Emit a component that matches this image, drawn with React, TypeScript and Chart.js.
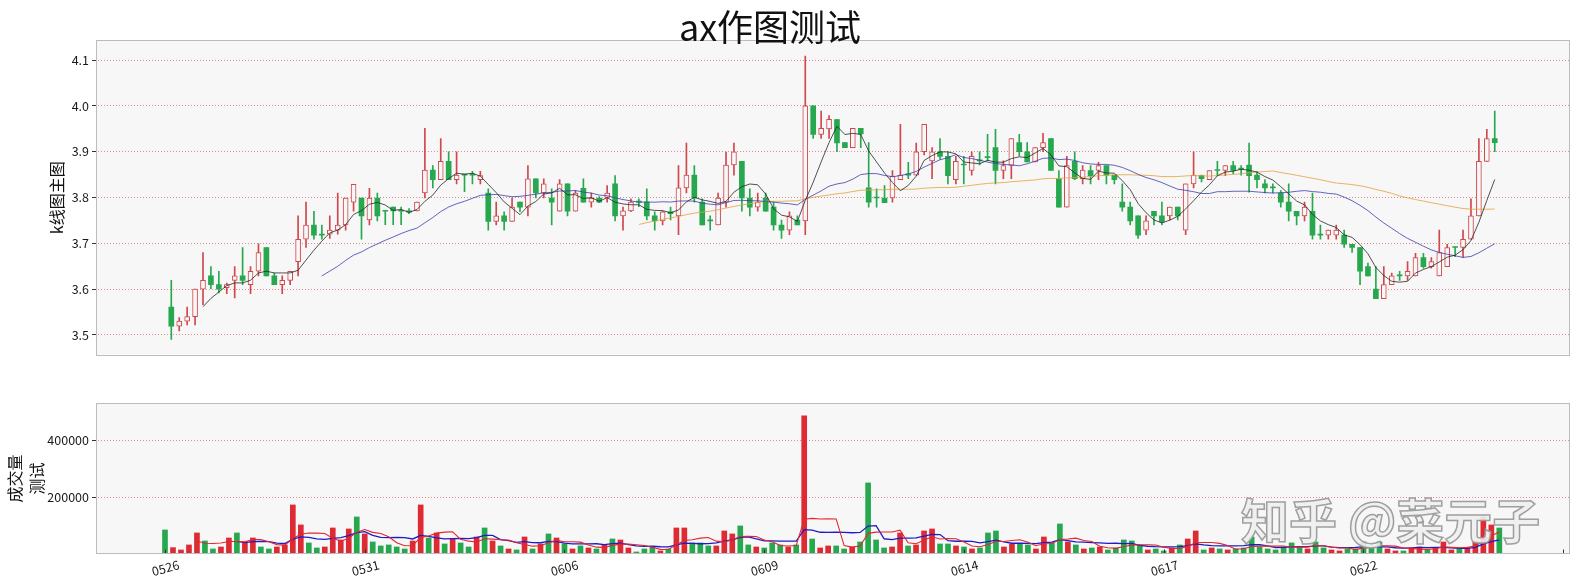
import React, { useEffect, useRef } from 'react';
import { Chart, registerables } from 'chart.js';

Chart.register(...registerables);

// ---------------- data ----------------
const dateLabels = ['0526', '0531', '0606', '0609', '0614', '0617', '0622', ''];
const dateTickIndex = [0, 25, 50, 75, 100, 125, 150, 175];
const priceTicks = [3.5, 3.6, 3.7, 3.8, 3.9, 4.0, 4.1];
const volumeTicks = [200000, 400000];

const opens = [
  3.561, 3.519, 3.530, 3.540, 3.600, 3.629, 3.610, 3.603, 3.619, 3.629,
  3.610, 3.639, 3.691, 3.629, 3.610, 3.619, 3.660, 3.709, 3.740, 3.720,
  3.720, 3.729, 3.740, 3.790, 3.799, 3.751, 3.799, 3.772, 3.779, 3.771,
  3.771, 3.771, 3.810, 3.860, 3.839, 3.879, 3.839, 3.850, 3.850, 3.839,
  3.810, 3.748, 3.760, 3.748, 3.790, 3.779, 3.841, 3.810, 3.799, 3.770,
  3.830, 3.770, 3.820, 3.790, 3.799, 3.800, 3.830, 3.760, 3.771, 3.792,
  3.790, 3.760, 3.749, 3.769, 3.760, 3.821, 3.849, 3.790, 3.751, 3.740,
  3.790, 3.871, 3.879, 3.799, 3.779, 3.799, 3.779, 3.740, 3.729, 3.751,
  3.749, 4.000, 3.938, 3.950, 3.970, 3.920, 3.909, 3.951, 3.821, 3.800,
  3.799, 3.799, 3.839, 3.852, 3.849, 3.900, 3.880, 3.900, 3.890, 3.839,
  3.872, 3.859, 3.881, 3.888, 3.909, 3.859, 3.870, 3.920, 3.900, 3.878,
  3.909, 3.929, 3.841, 3.779, 3.879, 3.841, 3.859, 3.859, 3.870, 3.849,
  3.790, 3.779, 3.760, 3.729, 3.770, 3.760, 3.760, 3.779, 3.729, 3.830,
  3.848, 3.839, 3.860, 3.859, 3.870, 3.863, 3.871, 3.849, 3.830, 3.822,
  3.810, 3.790, 3.770, 3.760, 3.770, 3.720, 3.718, 3.718, 3.718, 3.698,
  3.691, 3.649, 3.600, 3.579, 3.610, 3.630, 3.629, 3.629, 3.669, 3.649,
  3.629, 3.649, 3.692, 3.691, 3.709, 3.760, 3.879, 3.929,
];
const highs = [
  3.619, 3.538, 3.561, 3.600, 3.680, 3.649, 3.639, 3.613, 3.649, 3.691,
  3.649, 3.699, 3.691, 3.635, 3.629, 3.639, 3.760, 3.790, 3.770, 3.740,
  3.760, 3.810, 3.799, 3.829, 3.799, 3.820, 3.810, 3.772, 3.779, 3.779,
  3.776, 3.790, 3.951, 3.870, 3.929, 3.900, 3.900, 3.850, 3.857, 3.857,
  3.819, 3.790, 3.769, 3.799, 3.790, 3.870, 3.841, 3.841, 3.819, 3.839,
  3.830, 3.815, 3.841, 3.810, 3.802, 3.826, 3.848, 3.779, 3.797, 3.797,
  3.819, 3.769, 3.770, 3.779, 3.870, 3.919, 3.870, 3.797, 3.760, 3.810,
  3.899, 3.919, 3.879, 3.819, 3.810, 3.810, 3.790, 3.751, 3.769, 3.760,
  4.109, 4.000, 3.989, 3.979, 3.971, 3.920, 3.951, 3.951, 3.920, 3.819,
  3.826, 3.859, 3.960, 3.877, 3.919, 3.960, 3.909, 3.929, 3.900, 3.890,
  3.890, 3.900, 3.900, 3.938, 3.949, 3.880, 3.929, 3.938, 3.920, 3.909,
  3.940, 3.929, 3.859, 3.890, 3.900, 3.870, 3.870, 3.877, 3.870, 3.849,
  3.830, 3.790, 3.760, 3.760, 3.770, 3.790, 3.779, 3.779, 3.830, 3.900,
  3.849, 3.859, 3.879, 3.870, 3.879, 3.870, 3.919, 3.857, 3.839, 3.830,
  3.815, 3.830, 3.770, 3.790, 3.810, 3.740, 3.729, 3.740, 3.729, 3.698,
  3.691, 3.657, 3.649, 3.649, 3.635, 3.639, 3.660, 3.678, 3.678, 3.669,
  3.729, 3.698, 3.692, 3.729, 3.797, 3.929, 3.949, 3.989,
];
const lows = [
  3.490, 3.509, 3.522, 3.522, 3.566, 3.601, 3.592, 3.590, 3.581, 3.610,
  3.590, 3.629, 3.629, 3.610, 3.590, 3.610, 3.629, 3.691, 3.709, 3.709,
  3.711, 3.720, 3.729, 3.770, 3.709, 3.740, 3.749, 3.741, 3.741, 3.741,
  3.765, 3.771, 3.799, 3.821, 3.839, 3.839, 3.830, 3.813, 3.830, 3.830,
  3.729, 3.740, 3.729, 3.748, 3.769, 3.760, 3.799, 3.799, 3.740, 3.770,
  3.760, 3.770, 3.790, 3.779, 3.789, 3.790, 3.749, 3.729, 3.769, 3.780,
  3.751, 3.729, 3.740, 3.751, 3.719, 3.810, 3.790, 3.740, 3.729, 3.740,
  3.779, 3.849, 3.770, 3.760, 3.770, 3.770, 3.729, 3.711, 3.719, 3.740,
  3.719, 3.929, 3.929, 3.929, 3.900, 3.909, 3.909, 3.909, 3.779, 3.779,
  3.789, 3.790, 3.839, 3.841, 3.849, 3.893, 3.841, 3.884, 3.830, 3.830,
  3.830, 3.849, 3.871, 3.880, 3.830, 3.841, 3.841, 3.891, 3.878, 3.878,
  3.900, 3.859, 3.779, 3.779, 3.839, 3.830, 3.830, 3.839, 3.830, 3.830,
  3.770, 3.740, 3.711, 3.719, 3.740, 3.740, 3.751, 3.751, 3.719, 3.821,
  3.834, 3.839, 3.848, 3.848, 3.852, 3.849, 3.812, 3.821, 3.810, 3.810,
  3.779, 3.749, 3.740, 3.749, 3.709, 3.709, 3.709, 3.709, 3.691, 3.680,
  3.610, 3.629, 3.579, 3.579, 3.610, 3.619, 3.619, 3.629, 3.646, 3.646,
  3.629, 3.649, 3.671, 3.669, 3.709, 3.760, 3.879, 3.900,
];
const closes = [
  3.519, 3.530, 3.540, 3.600, 3.619, 3.610, 3.600, 3.610, 3.629, 3.619,
  3.639, 3.680, 3.629, 3.610, 3.619, 3.639, 3.709, 3.740, 3.718, 3.718,
  3.729, 3.740, 3.799, 3.829, 3.760, 3.799, 3.760, 3.770, 3.771, 3.770,
  3.768, 3.790, 3.860, 3.839, 3.879, 3.839, 3.849, 3.849, 3.849, 3.848,
  3.748, 3.760, 3.748, 3.779, 3.779, 3.841, 3.810, 3.830, 3.790, 3.830,
  3.770, 3.810, 3.790, 3.799, 3.790, 3.810, 3.760, 3.771, 3.790, 3.790,
  3.760, 3.749, 3.769, 3.765, 3.821, 3.849, 3.799, 3.740, 3.749, 3.799,
  3.871, 3.900, 3.799, 3.779, 3.790, 3.770, 3.740, 3.729, 3.760, 3.740,
  4.000, 3.938, 3.951, 3.971, 3.919, 3.909, 3.951, 3.939, 3.790, 3.799,
  3.789, 3.847, 3.849, 3.849, 3.900, 3.960, 3.900, 3.890, 3.848, 3.879,
  3.871, 3.890, 3.880, 3.887, 3.859, 3.870, 3.929, 3.900, 3.878, 3.909,
  3.920, 3.859, 3.779, 3.870, 3.841, 3.860, 3.848, 3.870, 3.849, 3.839,
  3.779, 3.749, 3.718, 3.749, 3.760, 3.747, 3.779, 3.760, 3.830, 3.849,
  3.841, 3.859, 3.859, 3.870, 3.859, 3.862, 3.848, 3.839, 3.821, 3.821,
  3.790, 3.770, 3.760, 3.779, 3.718, 3.718, 3.729, 3.729, 3.698, 3.691,
  3.639, 3.629, 3.579, 3.610, 3.629, 3.629, 3.639, 3.669, 3.649, 3.660,
  3.680, 3.691, 3.691, 3.709, 3.760, 3.879, 3.929, 3.920,
];
const volumes = [
  85400, 23400, 15200, 32800, 74900, 46800, 18700, 25700, 57300, 74900,
  42100, 57300, 25700, 18700, 25700, 32800, 173200, 103000, 39800, 22200,
  25700, 92400, 50300, 88900, 131000, 71400, 43300, 29300, 32800, 25700,
  18700, 46800, 173200, 57300, 74900, 36300, 53800, 39800, 25700, 60800,
  92400, 46800, 29300, 18700, 15200, 60800, 18700, 36300, 71400, 57300,
  36300, 18700, 29300, 22200, 18700, 32800, 53800, 50300, 22200, 8200,
  18700, 25700, 11700, 18700, 92400, 92400, 39800, 39800, 29300, 29300,
  81900, 71400, 99500, 32800, 25700, 22200, 39800, 32800, 25700, 32800,
  485600, 53800, 22200, 29300, 29300, 18700, 25700, 43300, 250400, 50300,
  22200, 25700, 74900, 29300, 32800, 81900, 88900, 36300, 36300, 29300,
  25700, 18700, 22200, 74900, 81900, 25700, 36300, 36300, 32800, 18700,
  60800, 39800, 106500, 43300, 32800, 18700, 22200, 25700, 15200, 22200,
  50300, 46800, 32800, 15200, 18700, 11700, 22200, 32800, 53800, 81900,
  15200, 22200, 18700, 15200, 18700, 22200, 60800, 25700, 18700, 15200,
  25700, 39800, 25700, 18700, 43300, 22200, 15200, 11700, 18700, 18700,
  43300, 25700, 43300, 18700, 11700, 11700, 22200, 25700, 15200, 22200,
  43300, 15200, 18700, 22200, 46800, 131000, 103000, 92400,
];

// ---------------- helpers ----------------
function sma(arr: number[], n: number): (number | null)[] {
  return arr.map((_, i) => {
    if (i < n - 1) return null;
    let s = 0;
    for (let k = i - n + 1; k <= i; k++) s += arr[k];
    return s / n;
  });
}

const BG = '#f7f7f7';
const FRAME = '#bcbcbc';
const UP_EDGE = '#d0474c';
const DOWN = '#27a84f';
const VOL_UP = '#de2a32';
const GRID = 'rgba(210,80,80,0.8)';
const FONT = "'Noto Sans CJK SC', 'Noto Sans', sans-serif";

const isUp = closes.map((c, i) => c >= opens[i]);

const framePlugin = {
  id: 'axesFrame',
  beforeDraw(chart: any) {
    const { ctx, chartArea: a } = chart;
    ctx.save();
    ctx.fillStyle = BG;
    ctx.fillRect(a.left, a.top, a.right - a.left, a.bottom - a.top);
    ctx.restore();
  },
  afterDraw(chart: any) {
    const { ctx, chartArea: a } = chart;
    ctx.save();
    ctx.strokeStyle = FRAME;
    ctx.lineWidth = 1;
    ctx.strokeRect(Math.round(a.left) - 0.5, Math.round(a.top) - 0.5,
      Math.round(a.right - a.left) + 1, Math.round(a.bottom - a.top) + 1);
    ctx.restore();
  },
};

const dateAxisPlugin = {
  id: 'dateAxis',
  afterDraw(chart: any) {
    const { ctx, chartArea: a } = chart;
    const xs = chart.scales.x;
    ctx.save();
    ctx.strokeStyle = '#333';
    ctx.lineWidth = 1;
    ctx.fillStyle = '#1a1a1a';
    ctx.font = `12.5px ${FONT}`;
    ctx.textAlign = 'center';
    ctx.textBaseline = 'middle';
    dateTickIndex.forEach((v, k) => {
      const px = Math.round(xs.getPixelForValue(v)) + 0.5;
      ctx.beginPath();
      ctx.moveTo(px, a.bottom);
      ctx.lineTo(px, a.bottom - 3.5);
      ctx.stroke();
      const label = dateLabels[k];
      if (label) {
        ctx.save();
        ctx.translate(px, a.bottom + 15);
        ctx.rotate((-15 * Math.PI) / 180);
        ctx.fillText(label, 0, 0);
        ctx.restore();
      }
    });
    ctx.restore();
  },
};

function yAxis(min: number, max: number, ticks: number[], fmt: (v: number) => string, title: any) {
  return {
    type: 'linear',
    min,
    max,
    afterBuildTicks: (scale: any) => {
      scale.ticks = ticks.map((v) => ({ value: v }));
    },
    afterFit: (scale: any) => {
      scale.width = 97;
    },
    ticks: {
      color: '#1a1a1a',
      font: { family: FONT, size: 12.5 },
      padding: 3,
      callback: (v: any) => fmt(Number(v)),
    },
    grid: {
      color: GRID,
      lineWidth: 0.8,
      tickLength: 5,
      tickColor: '#333',
      tickWidth: 1,
      tickBorderDash: [],
    },
    border: { display: true, color: 'rgba(0,0,0,0)', dash: [1, 2] },
    title,
  };
}

export default function App() {
  const priceRef = useRef<HTMLCanvasElement | null>(null);
  const volRef = useRef<HTMLCanvasElement | null>(null);

  useEffect(() => {
    const ma5 = sma(closes, 5);
    const ma20 = sma(closes, 20);
    const ma60 = sma(closes, 60);
    const vma5 = sma(volumes, 5);
    const vma10 = sma(volumes, 10);

    const line = (vals: (number | null)[], color: string, width: number) => ({
      type: 'line',
      data: vals.map((v, i) => ({ x: i, y: v })),
      borderColor: color,
      borderWidth: width,
      pointRadius: 0,
      tension: 0,
      fill: false,
      spanGaps: false,
      order: 0,
    });

    const price = new Chart(priceRef.current as HTMLCanvasElement, {
      type: 'bar',
      data: {
        datasets: [
          line(ma5, '#262626', 0.8),
          line(ma20, '#3c3cae', 0.8),
          line(ma60, '#e3a23a', 0.8),
          {
            type: 'bar',
            data: opens.map((o, i) => ({ x: i, y: [o, closes[i]] })),
            backgroundColor: isUp.map((u) => (u ? BG : DOWN)),
            borderColor: isUp.map((u) => (u ? UP_EDGE : DOWN)),
            borderWidth: isUp.map((u) => (u ? 1 : 0)),
            borderSkipped: false,
            barThickness: 5,
            minBarLength: 1,
            grouped: false,
            order: 1,
          },
          {
            type: 'bar',
            data: lows.map((l, i) => ({ x: i, y: [l, highs[i]] })),
            backgroundColor: isUp.map((u) => (u ? UP_EDGE : DOWN)),
            borderWidth: 0,
            barThickness: 1,
            grouped: false,
            order: 2,
          },
        ],
      } as any,
      options: {
        animation: false,
        responsive: false,
        devicePixelRatio: 1,
        events: [],
        layout: { padding: { left: 0, right: 9, top: 41, bottom: 8 } },
        plugins: { legend: { display: false }, tooltip: { enabled: false }, title: { display: false } },
        scales: {
          x: { type: 'linear', min: -9.375, max: 176.37, display: false, offset: false },
          y: yAxis(3.4573, 4.1418, priceTicks, (v) => v.toFixed(1), {
            display: true,
            text: 'k线图主图',
            color: '#111',
            font: { family: FONT, size: 16, lineHeight: 1.125 },
            padding: { top: 48, bottom: 0 },
          }),
        },
      } as any,
      plugins: [framePlugin],
    });

    const vol = new Chart(volRef.current as HTMLCanvasElement, {
      type: 'bar',
      data: {
        datasets: [
          line(vma5, '#e3262e', 1.1),
          line(vma10, '#1c1cc8', 1.3),
          {
            type: 'bar',
            data: volumes.map((v, i) => ({ x: i, y: v })),
            backgroundColor: isUp.map((u) => (u ? VOL_UP : DOWN)),
            borderWidth: 0,
            barThickness: 5,
            grouped: false,
            clip: { left: 0, top: 0, right: 0, bottom: 0 },
            order: 1,
          },
        ],
      } as any,
      options: {
        animation: false,
        responsive: false,
        devicePixelRatio: 1,
        events: [],
        layout: { padding: { left: 0, right: 9, top: 39, bottom: 34 } },
        plugins: { legend: { display: false }, tooltip: { enabled: false }, title: { display: false } },
        scales: {
          x: { type: 'linear', min: -8.51, max: 175.72, display: false, offset: false },
          y: yAxis(4560, 527400, volumeTicks, (v) => String(Math.round(v)), {
            display: true,
            text: ['成交量', '测试'],
            color: '#111',
            font: { family: FONT, size: 16, lineHeight: '22px' },
            padding: { top: 4, bottom: 0 },
          }),
        },
      } as any,
      plugins: [framePlugin, dateAxisPlugin],
    });

    return () => {
      price.destroy();
      vol.destroy();
    };
  }, []);

  return (
    <div style={{ position: 'fixed', left: 0, top: 0, width: 1578, height: 587, background: '#fff', overflow: 'hidden' }}>
      <canvas ref={priceRef} width={1578} height={365} style={{ position: 'absolute', left: 0, top: 0 }} />
      <canvas ref={volRef} width={1578} height={222} style={{ position: 'absolute', left: 0, top: 365 }} />
      <div
        style={{
          position: 'absolute', left: 0, top: 2, width: 1540, textAlign: 'center',
          fontFamily: FONT, fontSize: 36, fontWeight: 400, lineHeight: '46px', color: '#111',
        }}
      >
        ax作图测试
      </div>
      <div
        style={{
          position: 'absolute', left: 1241, top: 492, fontFamily: FONT, fontSize: 48,
          lineHeight: '52px', color: 'rgba(238,238,238,0.9)', whiteSpace: 'pre',
          fontWeight: 700, pointerEvents: 'none',
          WebkitTextStroke: '1.5px rgba(150,150,150,0.9)',
        }}
      >
        知乎 @菜元子
      </div>
    </div>
  );
}
